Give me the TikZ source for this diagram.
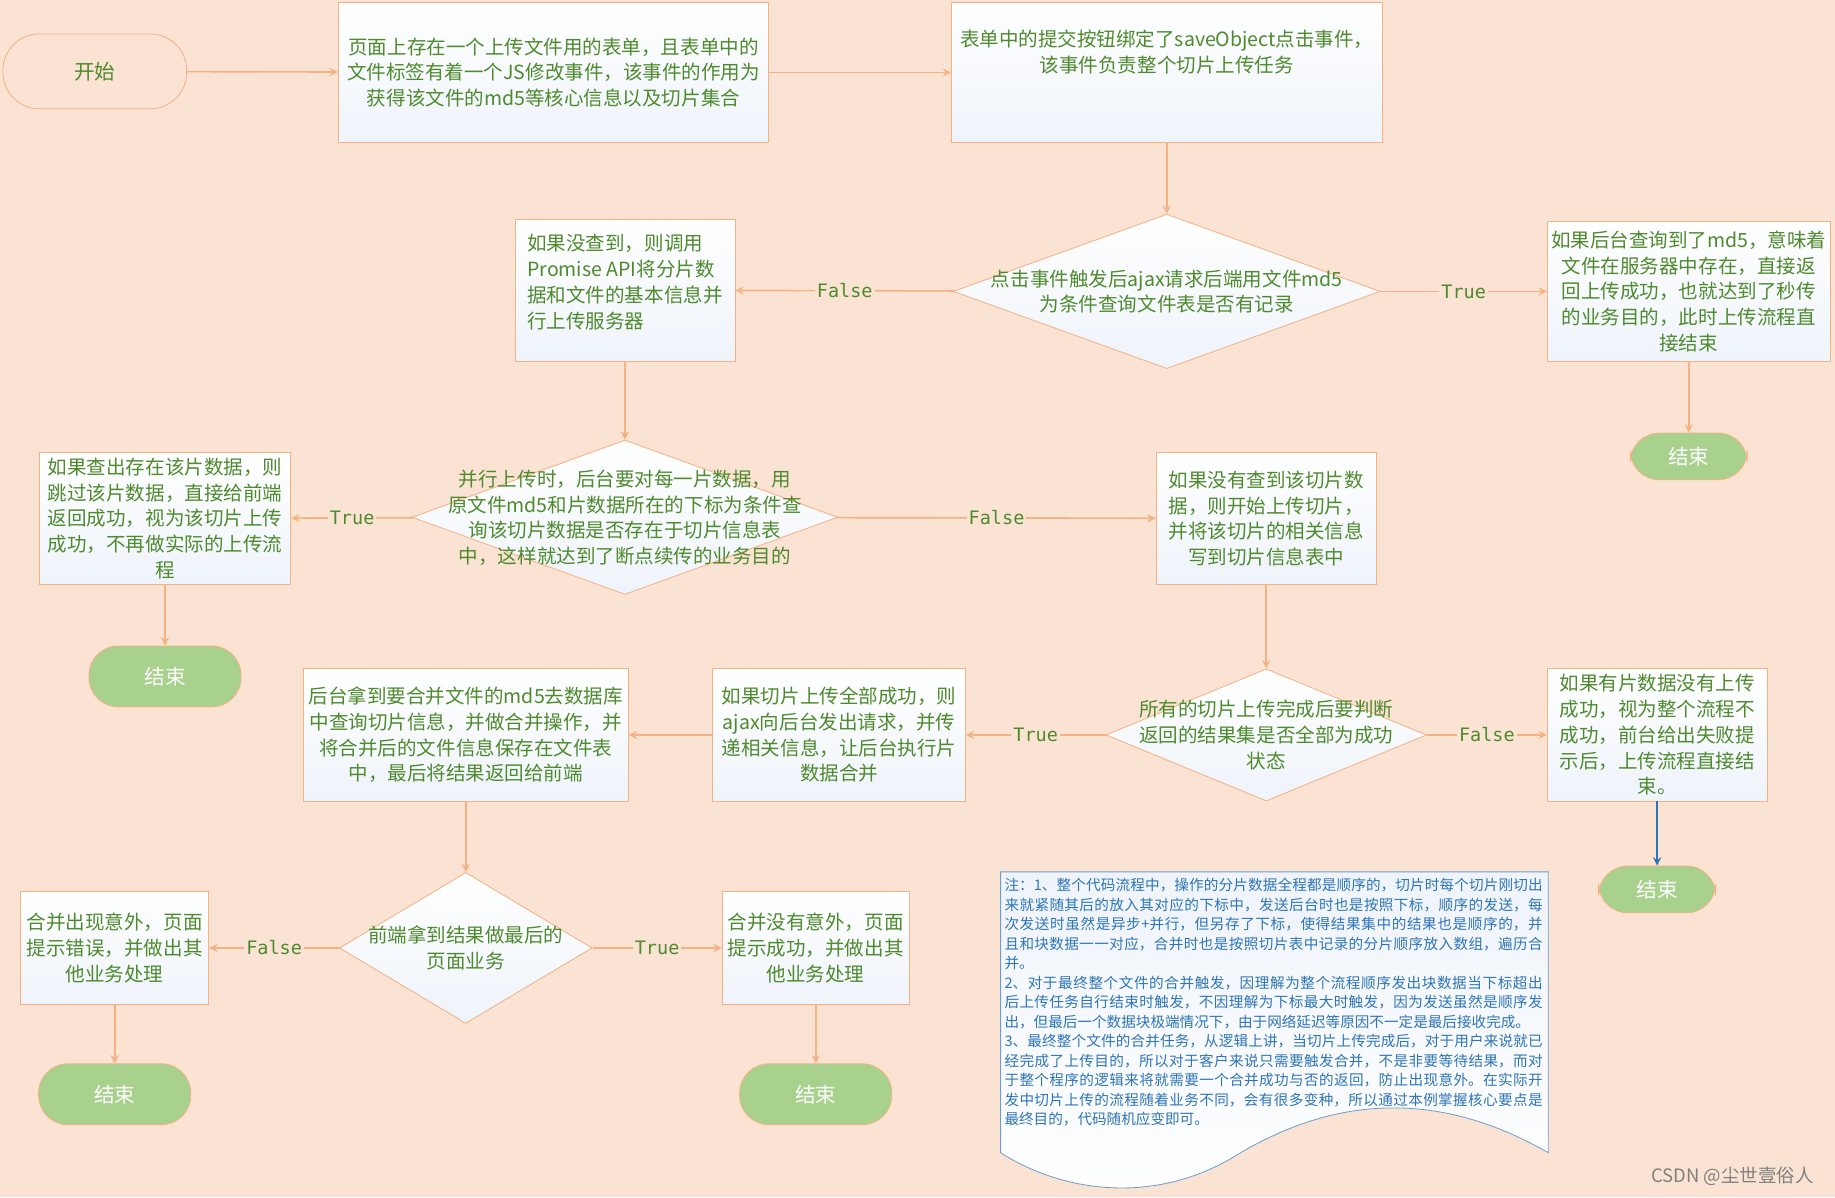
\documentclass[tikz,border=0pt]{standalone}
\usepackage{fontspec}
\setmainfont{Noto Sans CJK SC}
\setmonofont{DejaVu Sans Mono}
\XeTeXlinebreaklocale "zh"
\XeTeXlinebreakskip=0pt plus 1pt
\usepackage{tikz}
\usetikzlibrary{shapes,shapes.geometric,calc}
\definecolor{bgpeach}{HTML}{FBE3D3}
\definecolor{lineorange}{HTML}{F4B183}
\definecolor{txtgreen}{HTML}{4E8A2E}
\definecolor{endgreen}{HTML}{A9D18E}
\definecolor{noteblue}{HTML}{2E75B6}
\definecolor{boxblue}{HTML}{E4ECF8}
\newcommand{\dtext}[1]{\makebox[0pt]{\smash{\raisebox{-3.5pt}{\begin{tabular}{@{}c@{}}#1\end{tabular}}}}}

\begin{document}
\begin{tikzpicture}[x=0.02cm,y=-0.02cm]
    \tikzstyle{dedge}=[thick,->,>=stealth,draw=lineorange]
    \tikzstyle{taskbox}=[
      rectangle,
      draw=lineorange,
      top color=white,
      bottom color=boxblue!60,
      text=txtgreen,
      align=center,
      font=\fontsize{9.5}{12.5}\selectfont,
      inner sep=0pt,
    ]
    \tikzstyle{decision}=[
      diamond,
      draw=lineorange,
      top color=white,
      bottom color=boxblue!60,
      text=txtgreen,
      font=\fontsize{9.5}{12.5}\selectfont,
      inner sep=0pt,
    ]
    \tikzstyle{endnode}=[
      rectangle,
      rounded corners=0.5cm,
      draw=lineorange,
      fill=endgreen,
      text=white,
      font=\fontsize{10}{12}\selectfont,
    ]
    \tikzstyle{answer}=[
      midway,
      fill=bgpeach,
      inner sep=1pt,
      text=txtgreen,
      font=\ttfamily\fontsize{9}{11}\selectfont,
    ]

    \fill[bgpeach] (0,0) rectangle (1568,1023);
    \useasboundingbox (0,0) rectangle (1568,1023);

    % top row
    {
      \node[rectangle, rounded corners=0.62cm, draw=lineorange, text=txtgreen,
        minimum width=3.14cm, minimum height=1.28cm, font=\fontsize{10}{12}\selectfont] (start) at (81,61) {开始};
      \node[taskbox, minimum width=7.36cm, minimum height=2.4cm] (upform) at (473,62)
        {页面上存在一个上传文件用的表单，且表单中的\\文件标签有着一个JS修改事件，该事件的作用为\\获得该文件的md5等核心信息以及切片集合};
      \node[taskbox, minimum width=7.36cm, minimum height=2.4cm] (saveobj) at (997,62)
        {表单中的提交按钮绑定了saveObject点击事件，\\该事件负责整个切片上传任务\\[0.3cm]};
    }

    % first check
    {
      \node[decision, minimum width=7.3cm, minimum height=2.64cm] (checkmd) at (997,249)
        {\dtext{点击事件触发后ajax请求后端用文件md5\\为条件查询文件表是否有记录}};
      \node[taskbox, minimum width=3.76cm, minimum height=2.42cm] (promise) at (534,248)
        {\begin{tabular}{@{}l@{}}如果没查到，则调用\\Promise API将分片数\\据和文件的基本信息并\\行上传服务器\\[0.2cm]\end{tabular}};
      \node[taskbox, minimum width=4.84cm, minimum height=2.4cm] (quick) at (1443,249)
        {如果后台查询到了md5，意味着\\文件在服务器中存在，直接返\\回上传成功，也就达到了秒传\\的业务目的，此时上传流程直\\接结束};
      \node[endnode, minimum width=2cm, minimum height=0.8cm] (end1) at (1443,390) {结束};
    }

    % slice check
    {
      \node[decision, minimum width=7.28cm, minimum height=2.64cm] (checkslice) at (534,442)
        {\dtext{并行上传时，后台要对每一片数据，用\\原文件md5和片数据所在的下标为条件查\\询该切片数据是否存在于切片信息表\\中，这样就达到了断点续传的业务目的}};
      \node[taskbox, minimum width=4.3cm, minimum height=2.24cm] (skip) at (141,443)
        {如果查出存在该片数据，则\\跳过该片数据，直接给前端\\返回成功，视为该切片上传\\成功，不再做实际的上传流\\程};
      \node[endnode, minimum width=2.6cm, minimum height=1.04cm] (end2) at (141,578) {结束};
      \node[taskbox, minimum width=3.76cm, minimum height=2.24cm] (saveslice) at (1082,443)
        {如果没有查到该切片数\\据，则开始上传切片，\\并将该切片的相关信息\\写到切片信息表中};
    }

    % all done check
    {
      \node[decision, minimum width=5.48cm, minimum height=2.26cm] (checkall) at (1082,628)
        {\dtext{所有的切片上传完成后要判断\\返回的结果集是否全部为成功\\状态}};
      \node[taskbox, minimum width=3.76cm, minimum height=2.26cm] (fail) at (1416,628)
        {如果有片数据没有上传\\成功，视为整个流程不\\成功，前台给出失败提\\示后，上传流程直接结\\束。};
      \node[endnode, minimum width=2cm, minimum height=0.8cm] (end3) at (1416,760) {结束};
      \node[taskbox, minimum width=4.32cm, minimum height=2.26cm] (askmerge) at (717,628)
        {如果切片上传全部成功，则\\ajax向后台发出请求，并传\\递相关信息，让后台执行片\\数据合并};
      \node[taskbox, minimum width=5.56cm, minimum height=2.26cm] (merge) at (398,628)
        {后台拿到要合并文件的md5去数据库\\中查询切片信息，并做合并操作，并\\将合并后的文件信息保存在文件表\\中，最后将结果返回给前端};
    }

    % final check
    {
      \node[decision, minimum width=4.32cm, minimum height=2.58cm] (checkmerge) at (398,810)
        {\dtext{前端拿到结果做最后的\\页面业务}};
      \node[taskbox, minimum width=3.22cm, minimum height=1.94cm] (mergeerr) at (98,810)
        {合并出现意外，页面\\提示错误，并做出其\\他业务处理};
      \node[endnode, minimum width=2.6cm, minimum height=1.04cm] (end4) at (98,935) {结束};
      \node[taskbox, minimum width=3.2cm, minimum height=1.94cm] (mergeok) at (697,810)
        {合并没有意外，页面\\提示成功，并做出其\\他业务处理};
      \node[endnode, minimum width=2.6cm, minimum height=1.04cm] (end5) at (697,935) {结束};
    }

    % note
    {
      \draw[noteblue!70, top color=boxblue!60, bottom color=white]
        (855,745) -- (1323,745) -- (1323,985)
        .. controls (1210,920) and (1120,950) .. (1060,985)
        .. controls (990,1030) and (910,1020) .. (855,985) -- cycle;
      \node[anchor=north west, text width=9.2cm, align=justify, text=noteblue,
        font=\fontsize{7.1}{9.5}\selectfont, inner sep=0pt] (notetext) at (858,750)
        {注：1、整个代码流程中，操作的分片数据全程都是顺序的，切片时每个切片刚切出来就紧随其后的放入其对应的下标中，发送后台时也是按照下标，顺序的发送，每次发送时虽然是异步+并行，但另存了下标，使得结果集中的结果也是顺序的，并且和块数据一一对应，合并时也是按照切片表中记录的分片顺序放入数组，遍历合并。\\
        2、对于最终整个文件的合并触发，因理解为整个流程顺序发出块数据当下标超出后上传任务自行结束时触发，不因理解为下标最大时触发，因为发送虽然是顺序发出，但最后一个数据块极端情况下，由于网络延迟等原因不一定是最后接收完成。\\
        3、最终整个文件的合并任务，从逻辑上讲，当切片上传完成后，对于用户来说就已经完成了上传目的，所以对于客户来说只需要触发合并，不是非要等待结果，而对于整个程序的逻辑来将就需要一个合并成功与否的返回，防止出现意外。在实际开发中切片上传的流程随着业务不同，会有很多变种，所以通过本例掌握核心要点是最终目的，代码随机应变即可。};
      \node[text=gray, font=\fontsize{9}{11}\selectfont, anchor=east] (mark) at (1556,1005) {CSDN @尘世壹俗人};
    }

    % connectors
    \draw[dedge] (start)--(upform);
    \draw[dedge] (upform)--(saveobj);
    \draw[dedge] (saveobj)--(checkmd);
    \draw[dedge] (checkmd)--(promise) node[answer] {False};
    \draw[dedge] (checkmd)--(quick) node[answer] {True};
    \draw[dedge] (quick)--(end1);
    \draw[dedge] (promise)--(checkslice);
    \draw[dedge] (checkslice)--(skip) node[answer] {True};
    \draw[dedge] (checkslice)--(saveslice) node[answer] {False};
    \draw[dedge] (skip)--(end2);
    \draw[dedge] (saveslice)--(checkall);
    \draw[dedge] (checkall)--(fail) node[answer] {False};
    \draw[dedge, draw=noteblue] (fail)--(end3);
    \draw[dedge] (checkall)--(askmerge) node[answer] {True};
    \draw[dedge] (askmerge)--(merge);
    \draw[dedge] (merge)--(checkmerge);
    \draw[dedge] (checkmerge)--(mergeerr) node[answer] {False};
    \draw[dedge] (checkmerge)--(mergeok) node[answer] {True};
    \draw[dedge] (mergeerr)--(end4);
    \draw[dedge] (mergeok)--(end5);
\end{tikzpicture}
\end{document}
